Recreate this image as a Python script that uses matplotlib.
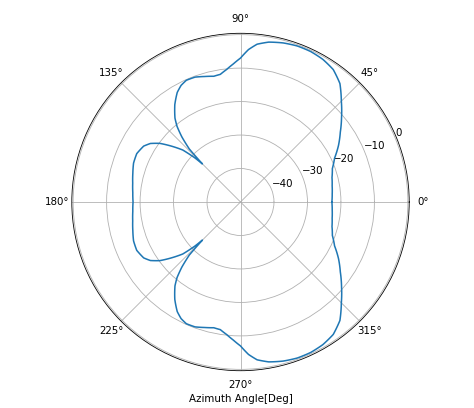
import numpy as np
import matplotlib
matplotlib.use("Agg")
import matplotlib.pyplot as plt

# azimuth angles (deg) and gain (dB)
angles_deg = [0, 5, 10, 15, 20, 25, 30, 35, 40, 45, 50, 55, 60, 65, 70, 75, 80, 84, 87,
              90, 93, 96, 99, 102, 106, 110, 114, 117, 120, 124, 128, 130, 132, 134,
              135, 136, 138, 141, 144, 147, 150, 155, 160, 165, 170, 175,
              180, 185, 190, 195, 200, 205, 210, 213, 216, 219, 222, 224,
              225, 226, 228, 230, 232, 236, 240, 243, 246, 250, 254, 258, 261, 264, 267,
              270, 273, 276, 280, 285, 290, 295, 300, 305, 310, 315, 320, 325, 330, 335,
              340, 345, 350, 355, 360]
gain_db = [-22.7, -22.5, -22.2, -21.7, -20.8, -19.0, -16.2, -13.6, -10.6, -7.4, -3.8,
           -1.7, -0.8, -0.4, -0.4, -0.8, -1.5, -2.6, -4.4,
           -7.0, -8.7, -10.2, -11.4, -11.6, -11.0, -10.3, -10.2, -10.9, -12.2, -14.9,
           -18.2, -20.5, -23.8, -28.0,
           -33.9, -31.0, -26.8, -23.5, -20.2, -17.9, -16.6, -15.8, -16.0, -16.7, -17.3,
           -17.7,
           -17.9, -17.7, -17.3, -16.7, -16.0, -15.8, -16.6, -17.9, -20.2, -23.5, -26.8,
           -31.0,
           -33.9, -28.0, -23.8, -20.5, -18.2, -14.9, -12.2, -10.9, -10.2, -10.3, -11.0,
           -11.6, -11.4, -10.2, -8.7,
           -7.0, -4.4, -2.6, -1.5, -0.8, -0.4, -0.4, -0.8, -1.7, -3.8, -7.4, -10.6, -13.6,
           -16.2, -19.0, -20.8, -21.7, -22.2, -22.5, -22.7]
r_ticks = [-40, -30, -20, -10, 0]

theta = np.deg2rad(angles_deg)

fig = plt.figure(figsize=(474 / 74, 408 / 74), dpi=74)
ax = fig.add_axes([0.1513, 0.0914, 0.7122, 0.8270], projection="polar")
line, = ax.plot(theta, gain_db)
# let the polar transform draw each segment as a curve in (theta, r)
line.get_path()._interpolation_steps = 40
ax.set_ylim(-50, 0.4)
ax.set_yticks(r_ticks)
ax.set_xlabel("Azimuth Angle[Deg]")

fig.savefig("out.png", dpi=74)
